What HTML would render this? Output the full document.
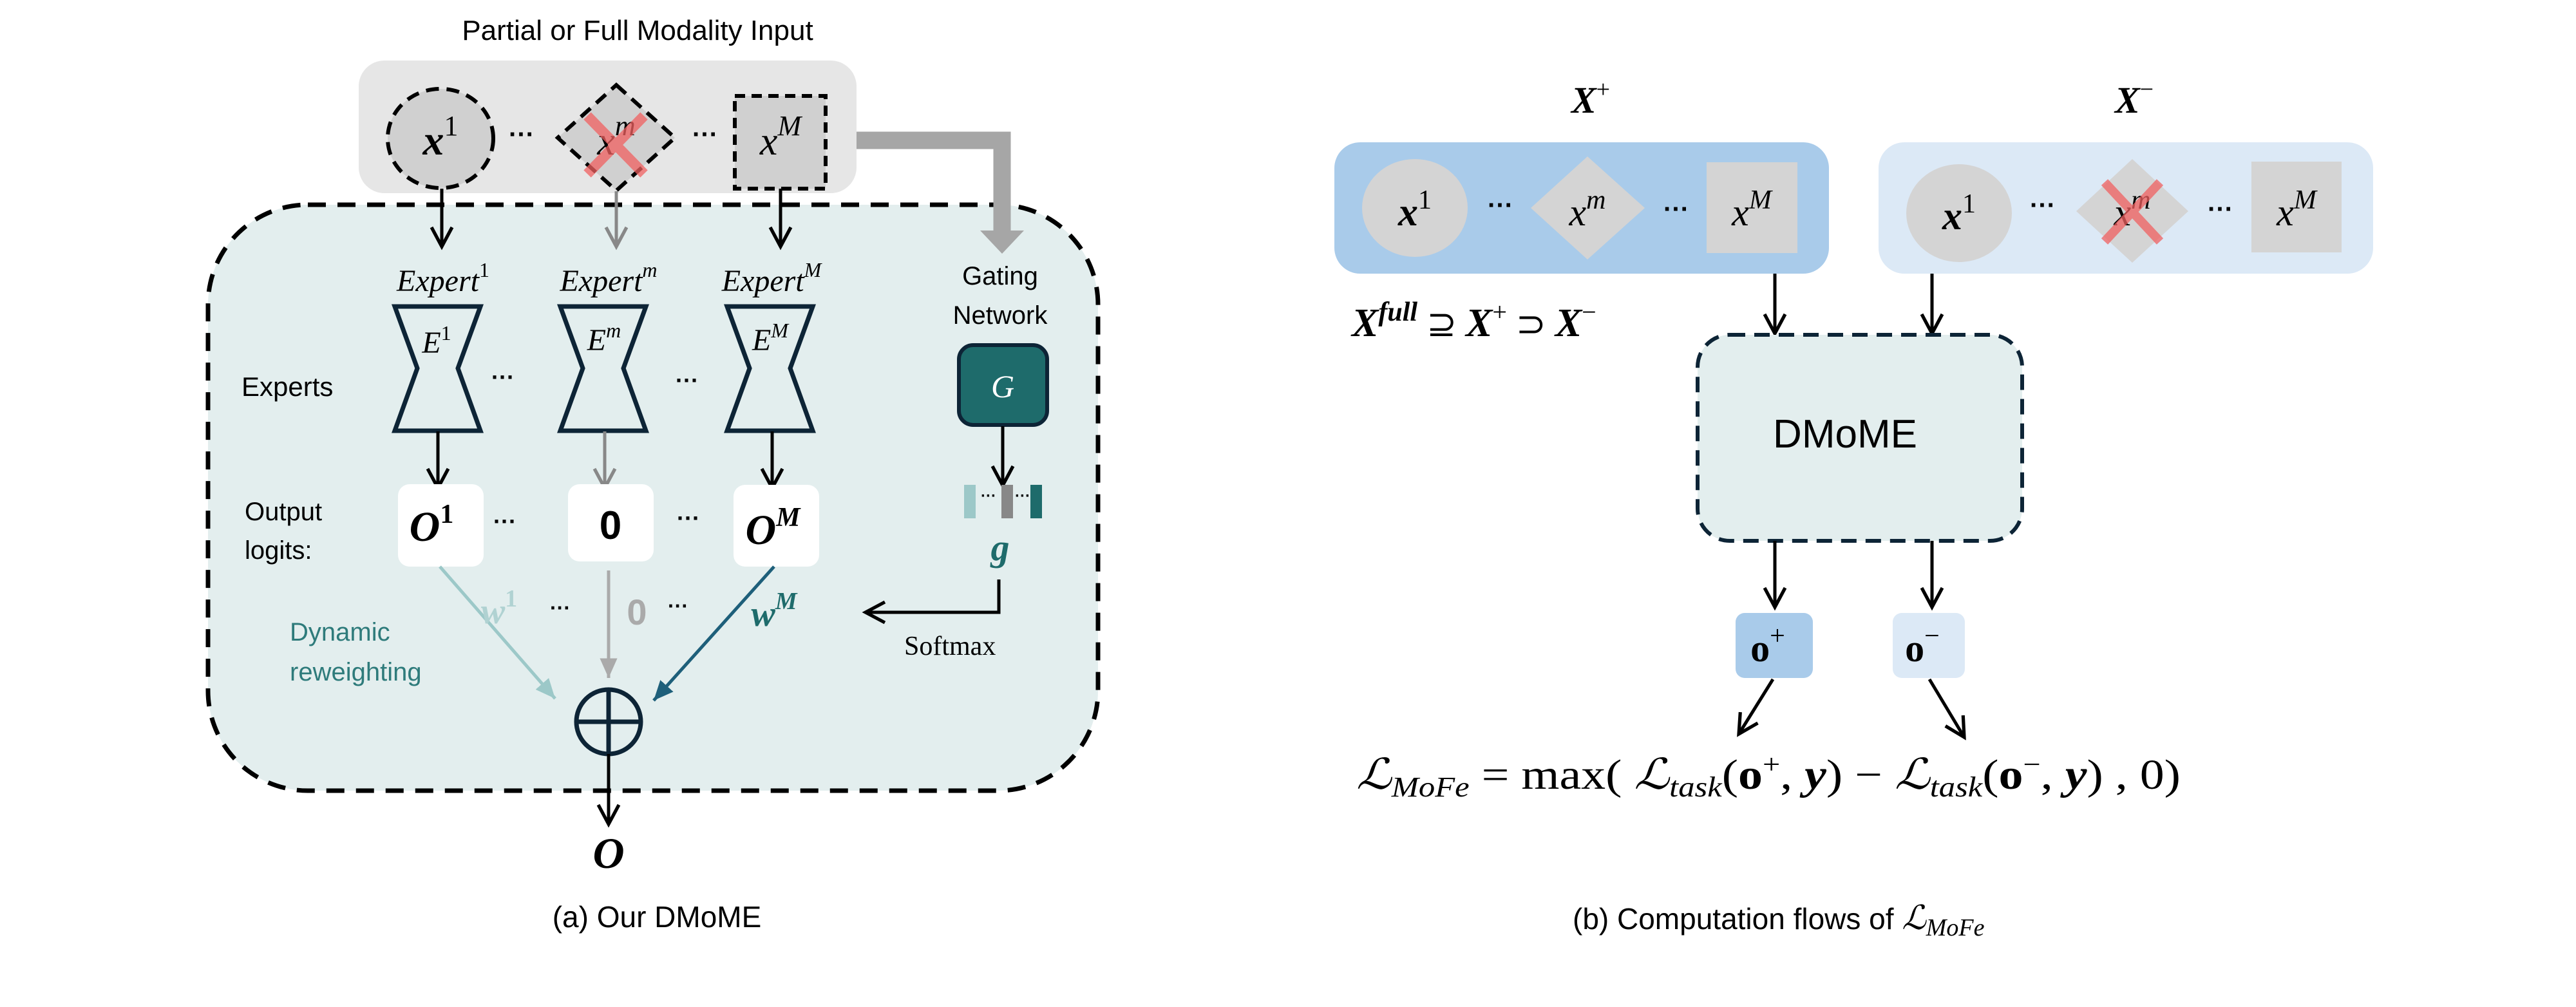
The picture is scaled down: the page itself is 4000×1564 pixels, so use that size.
<!DOCTYPE html>
<html><head><meta charset="utf-8"><style>
html,body{margin:0;padding:0;background:#fff}
svg{display:block}
.s{font-family:"Liberation Sans",sans-serif}
.m{font-family:"Liberation Serif",serif;font-style:italic}
</style></head><body>
<svg width="4000" height="1564" viewBox="0 0 4000 1564" xmlns="http://www.w3.org/2000/svg">
<defs>
<marker id="ab" markerWidth="40" markerHeight="40" refX="8.5" refY="5" orient="auto" markerUnits="userSpaceOnUse" viewBox="0 0 10 10"><path d="M1,1 L8.5,5 L1,9" fill="none" stroke="#000" stroke-width="1.3"/></marker>
<marker id="ag" markerWidth="40" markerHeight="40" refX="8.5" refY="5" orient="auto" markerUnits="userSpaceOnUse" viewBox="0 0 10 10"><path d="M1,1 L8.5,5 L1,9" fill="none" stroke="#888" stroke-width="1.3"/></marker>
<marker id="at" markerWidth="34" markerHeight="34" refX="9" refY="5" orient="auto" markerUnits="userSpaceOnUse" viewBox="0 0 10 10"><path d="M0,1 L9,5 L0,9 Z" fill="#9cc8c8"/></marker>
<marker id="ad" markerWidth="34" markerHeight="34" refX="9" refY="5" orient="auto" markerUnits="userSpaceOnUse" viewBox="0 0 10 10"><path d="M0,1 L9,5 L0,9 Z" fill="#1e5f7a"/></marker>
<marker id="ay" markerWidth="34" markerHeight="34" refX="9" refY="5" orient="auto" markerUnits="userSpaceOnUse" viewBox="0 0 10 10"><path d="M0,1 L9,5 L0,9 Z" fill="#aaa"/></marker>
</defs>
<style>
.a{stroke:#000;stroke-width:5;fill:none}
</style>
<!-- LEFT PANEL -->
<text x="990" y="62" class="s" font-size="44" text-anchor="middle">Partial or Full Modality Input</text>
<rect x="323" y="318" width="1382" height="910" rx="155" fill="#e3eeee" stroke="#000" stroke-width="7" stroke-dasharray="28 18"/>
<rect x="557" y="94" width="773" height="206" rx="40" fill="#e6e6e6"/>
<path d="M1330 218 H1556 V360" stroke="#a6a6a6" stroke-width="27" fill="none"/>
<polygon points="1522,358 1590,358 1556,394" fill="#a6a6a6"/>
<ellipse cx="684" cy="215" rx="82" ry="77" fill="#d0d0d0" stroke="#000" stroke-width="6" stroke-dasharray="20 12"/>
<polygon points="957,132 1048,214 957,296 866,214" fill="#d0d0d0" stroke="#000" stroke-width="6" stroke-dasharray="20 12"/>
<rect x="1141" y="149" width="141" height="144" fill="#d0d0d0" stroke="#000" stroke-width="6" stroke-dasharray="16 10"/>
<text x="684" y="240" class="m" font-size="66" font-weight="bold" text-anchor="middle">x<tspan font-size="44" font-weight="normal" font-style="normal" dy="-30">1</tspan></text>
<text x="957" y="240" class="m" font-size="62" text-anchor="middle">x<tspan font-size="44" dy="-30">m</tspan></text>
<text x="1212" y="240" class="m" font-size="62" text-anchor="middle">x<tspan font-size="44" dy="-30">M</tspan></text>
<path d="M912 180 L1000 270 M1000 180 L912 270" stroke="#f06060" stroke-opacity="0.75" stroke-width="16"/>
<text x="810" y="222" class="s" font-size="40" font-weight="bold" text-anchor="middle">···</text>
<text x="1095" y="222" class="s" font-size="40" font-weight="bold" text-anchor="middle">···</text>
<line x1="686" y1="293" x2="686" y2="383" class="a" marker-end="url(#ab)"/>
<line x1="957" y1="297" x2="957" y2="383" stroke="#888" stroke-width="5" marker-end="url(#ag)"/>
<line x1="1212" y1="293" x2="1212" y2="383" class="a" marker-end="url(#ab)"/>
<text x="688" y="452" class="m" font-size="48" text-anchor="middle">Expert<tspan font-size="32" font-style="normal" dy="-22">1</tspan></text>
<text x="945" y="452" class="m" font-size="48" text-anchor="middle">Expert<tspan font-size="32" dy="-22">m</tspan></text>
<text x="1198" y="452" class="m" font-size="48" text-anchor="middle">Expert<tspan font-size="32" dy="-22">M</tspan></text>
<text x="1553" y="442" class="s" font-size="40" text-anchor="middle">Gating</text>
<text x="1553" y="503" class="s" font-size="40" text-anchor="middle">Network</text>
<text x="375" y="615" class="s" font-size="42">Experts</text>
<g fill="#e3eeee" stroke="#0d2436" stroke-width="7">
<polygon points="613,476 746,476 711,572 746,669 613,669 648,572"/>
<polygon points="870,476 1003,476 968,572 1003,669 870,669 905,572"/>
<polygon points="1129,476 1262,476 1227,572 1262,669 1129,669 1164,572"/>
</g>
<text x="678" y="548" class="m" font-size="48" text-anchor="middle">E<tspan font-size="32" font-style="normal" dy="-20">1</tspan></text>
<text x="938" y="544" class="m" font-size="48" text-anchor="middle">E<tspan font-size="32" dy="-20">m</tspan></text>
<text x="1196" y="544" class="m" font-size="48" text-anchor="middle">E<tspan font-size="32" dy="-20">M</tspan></text>
<text x="781" y="598" class="s" font-size="36" font-weight="bold" text-anchor="middle">···</text>
<text x="1067" y="603" class="s" font-size="36" font-weight="bold" text-anchor="middle">···</text>
<rect x="1489" y="536" width="137" height="124" rx="22" fill="#1e6b6b" stroke="#0d2436" stroke-width="6"/>
<text x="1557" y="617" class="m" font-size="50" fill="#fff" text-anchor="middle">G</text>
<line x1="1557" y1="662" x2="1557" y2="754" class="a" marker-end="url(#ab)"/>
<line x1="680" y1="670" x2="680" y2="758" class="a" marker-end="url(#ab)"/>
<line x1="939" y1="670" x2="939" y2="758" stroke="#888" stroke-width="5" marker-end="url(#ag)"/>
<line x1="1199" y1="670" x2="1199" y2="758" class="a" marker-end="url(#ab)"/>
<text x="380" y="808" class="s" font-size="40">Output</text>
<text x="380" y="868" class="s" font-size="40">logits:</text>
<rect x="618" y="752" width="133" height="128" rx="18" fill="#fff"/>
<rect x="882" y="752" width="133" height="120" rx="18" fill="#fff"/>
<rect x="1139" y="753" width="133" height="127" rx="18" fill="#fff"/>
<text x="670" y="840" class="m" font-size="66" font-weight="bold" text-anchor="middle">O<tspan font-size="42" font-style="normal" dy="-28">1</tspan></text>
<text x="948" y="837" class="s" font-size="62" font-weight="bold" text-anchor="middle">0</text>
<text x="1200" y="845" class="m" font-size="66" font-weight="bold" text-anchor="middle">O<tspan font-size="42" dy="-28">M</tspan></text>
<text x="784" y="822" class="s" font-size="36" font-weight="bold" text-anchor="middle">···</text>
<text x="1069" y="817" class="s" font-size="36" font-weight="bold" text-anchor="middle">···</text>
<rect x="1497" y="753" width="18" height="52" fill="#9cc8c8"/>
<rect x="1555" y="753" width="18" height="52" fill="#888"/>
<rect x="1600" y="753" width="18" height="52" fill="#1e6b6b"/>
<text x="1535" y="778" class="s" font-size="24" font-weight="bold" text-anchor="middle">···</text>
<text x="1588" y="778" class="s" font-size="24" font-weight="bold" text-anchor="middle">···</text>
<text x="1553" y="870" class="m" font-size="58" font-weight="bold" fill="#1e6b6b" text-anchor="middle">g</text>
<path d="M1551 900 V951 H1344" class="a" marker-end="url(#ab)"/>
<text x="1404" y="1017" font-family="Liberation Serif,serif" font-size="42">Softmax</text>
<line x1="683" y1="880" x2="862" y2="1085" stroke="#9cc8c8" stroke-width="5" marker-end="url(#at)"/>
<line x1="945" y1="886" x2="945" y2="1053" stroke="#aaa" stroke-width="5" marker-end="url(#ay)"/>
<line x1="1202" y1="880" x2="1015" y2="1088" stroke="#1e5f7a" stroke-width="5" marker-end="url(#ad)"/>
<text x="775" y="968" class="m" font-size="56" font-weight="bold" fill="#b0d2d2" text-anchor="middle">w<tspan font-size="38" font-style="normal" dy="-26">1</tspan></text>
<text x="870" y="955" class="s" font-size="32" font-weight="bold" text-anchor="middle">···</text>
<text x="989" y="970" class="s" font-size="56" font-weight="bold" fill="#aaa" text-anchor="middle">0</text>
<text x="1053" y="952" class="s" font-size="32" font-weight="bold" text-anchor="middle">···</text>
<text x="1202" y="972" class="m" font-size="56" font-weight="bold" fill="#1e6b6b" text-anchor="middle">w<tspan font-size="38" dy="-26">M</tspan></text>
<text x="450" y="995" class="s" font-size="40" fill="#2e7b7b">Dynamic</text>
<text x="450" y="1057" class="s" font-size="40" fill="#2e7b7b">reweighting</text>
<circle cx="945" cy="1121" r="50" fill="none" stroke="#0d2436" stroke-width="7"/>
<line x1="895" y1="1121" x2="995" y2="1121" stroke="#0d2436" stroke-width="7"/>
<line x1="945" y1="1071" x2="945" y2="1171" stroke="#0d2436" stroke-width="7"/>
<line x1="945" y1="1171" x2="945" y2="1280" class="a" marker-end="url(#ab)"/>
<text x="945" y="1348" class="m" font-size="68" font-weight="bold" text-anchor="middle">O</text>
<text x="1020" y="1440" class="s" font-size="46" text-anchor="middle">(a) Our DMoME</text>

<!-- RIGHT PANEL -->
<text x="2470" y="175" class="m" font-size="58" font-weight="bold" text-anchor="middle">X<tspan font-size="38" font-weight="normal" font-style="normal" dy="-24">+</tspan></text>
<text x="3314" y="175" class="m" font-size="58" font-weight="bold" text-anchor="middle">X<tspan font-size="38" font-weight="normal" font-style="normal" dy="-24">−</tspan></text>
<rect x="2072" y="221" width="768" height="204" rx="40" fill="#a9cbea"/>
<rect x="2917" y="221" width="768" height="204" rx="40" fill="#dce9f6"/>
<g fill="#d4d4d4">
<ellipse cx="2197" cy="323" rx="82" ry="76"/>
<polygon points="2465,243 2554,323 2465,403 2377,323"/>
<rect x="2650" y="252" width="141" height="141"/>
<ellipse cx="3042" cy="331" rx="82" ry="76"/>
<polygon points="3311,247 3398,328 3311,408 3224,328"/>
<rect x="3496" y="251" width="140" height="141"/>
</g>
<text x="2197" y="350" class="m" font-size="62" font-weight="bold" text-anchor="middle">x<tspan font-size="42" font-weight="normal" font-style="normal" dy="-26">1</tspan></text>
<text x="2465" y="350" class="m" font-size="60" text-anchor="middle">x<tspan font-size="42" dy="-26">m</tspan></text>
<text x="2720" y="350" class="m" font-size="60" text-anchor="middle">x<tspan font-size="42" dy="-26">M</tspan></text>
<text x="3042" y="356" class="m" font-size="62" font-weight="bold" text-anchor="middle">x<tspan font-size="42" font-weight="normal" font-style="normal" dy="-26">1</tspan></text>
<text x="3311" y="350" class="m" font-size="60" text-anchor="middle">x<tspan font-size="42" dy="-26">m</tspan></text>
<text x="3566" y="350" class="m" font-size="60" text-anchor="middle">x<tspan font-size="42" dy="-26">M</tspan></text>
<path d="M3268 283 L3354 375 M3354 283 L3268 375" stroke="#f06060" stroke-opacity="0.75" stroke-width="14"/>
<g class="s" font-size="40" font-weight="bold" text-anchor="middle">
<text x="2330" y="332">···</text><text x="2603" y="338">···</text>
<text x="3172" y="332">···</text><text x="3448" y="338">···</text>
</g>
<text x="2099" y="522" class="m" font-size="62" font-weight="bold">X<tspan font-size="42" dy="-24">full</tspan><tspan font-weight="normal" font-style="normal" font-size="56" dy="24">  ⊇ </tspan>X<tspan font-size="40" font-weight="normal" font-style="normal" dy="-24">+</tspan><tspan font-weight="normal" font-style="normal" font-size="56" dy="24"> ⊃  </tspan>X<tspan font-size="40" font-weight="normal" font-style="normal" dy="-24">−</tspan></text>
<line x1="2756" y1="425" x2="2756" y2="518" class="a" marker-end="url(#ab)"/>
<line x1="3000" y1="425" x2="3000" y2="518" class="a" marker-end="url(#ab)"/>
<rect x="2636" y="520" width="504" height="320" rx="50" fill="#e3eeee" stroke="#0d2436" stroke-width="6" stroke-dasharray="24 14"/>
<text x="2865" y="695" class="s" font-size="62" text-anchor="middle">DMoME</text>
<line x1="2756" y1="840" x2="2756" y2="943" class="a" marker-end="url(#ab)"/>
<line x1="3000" y1="840" x2="3000" y2="943" class="a" marker-end="url(#ab)"/>
<rect x="2695" y="952" width="120" height="101" rx="14" fill="#a9cbea"/>
<rect x="2939" y="952" width="112" height="101" rx="14" fill="#dce9f6"/>
<text x="2745" y="1027" font-family="Liberation Serif,serif" font-size="60" font-weight="bold" text-anchor="middle">o<tspan font-size="42" font-weight="normal" dy="-26">+</tspan></text>
<text x="2985" y="1027" font-family="Liberation Serif,serif" font-size="60" font-weight="bold" text-anchor="middle">o<tspan font-size="42" font-weight="normal" dy="-26">−</tspan></text>
<line x1="2753" y1="1055" x2="2700" y2="1140" class="a" marker-end="url(#ab)"/>
<line x1="2996" y1="1055" x2="3050" y2="1145" class="a" marker-end="url(#ab)"/>
<text x="2106" y="1225" font-family="Liberation Serif,serif" font-size="66" textLength="1280" lengthAdjust="spacingAndGlyphs"><tspan font-style="italic">ℒ</tspan><tspan font-style="italic" font-size="44" dy="12">MoFe</tspan><tspan dy="-12"> = max( </tspan><tspan font-style="italic">ℒ</tspan><tspan font-style="italic" font-size="44" dy="12">task</tspan><tspan dy="-12">(</tspan><tspan font-weight="bold">o</tspan><tspan font-size="42" dy="-24">+</tspan><tspan dy="24">, </tspan><tspan font-style="italic" font-weight="bold">y</tspan><tspan>) − </tspan><tspan font-style="italic">ℒ</tspan><tspan font-style="italic" font-size="44" dy="12">task</tspan><tspan dy="-12">(</tspan><tspan font-weight="bold">o</tspan><tspan font-size="42" dy="-24">−</tspan><tspan dy="24">, </tspan><tspan font-style="italic" font-weight="bold">y</tspan><tspan>) , 0)</tspan></text>
<text x="2442" y="1443" class="s" font-size="46">(b) Computation flows of <tspan font-family="Liberation Serif,serif" font-style="italic" font-size="52">ℒ</tspan><tspan font-family="Liberation Serif,serif" font-style="italic" font-size="38" dy="10">MoFe</tspan></text>
</svg>
</body></html>
